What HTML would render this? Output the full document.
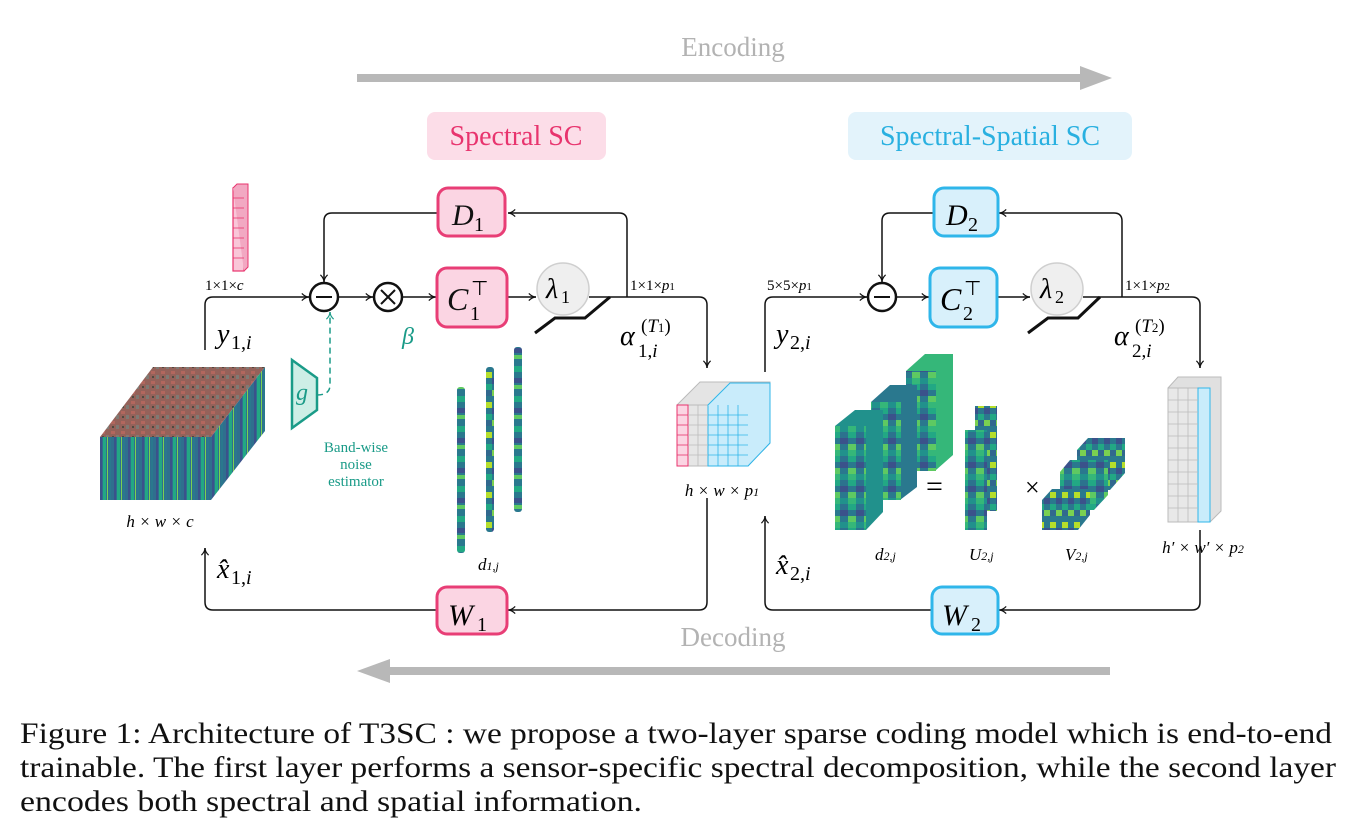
<!DOCTYPE html>
<html><head><meta charset="utf-8"><style>
html,body{margin:0;padding:0;background:#fff;}
svg{display:block;}
.m{font-family:"Liberation Serif",serif;font-style:italic;}
.r{font-family:"Liberation Serif",serif;}
</style></head><body>
<svg width="1358" height="826" viewBox="0 0 1358 826" xmlns="http://www.w3.org/2000/svg">
<defs>
<marker id="ah" viewBox="0 0 10 10" refX="9" refY="5" markerWidth="9" markerHeight="9" orient="auto" markerUnits="userSpaceOnUse">
<path d="M1,1 Q5,5 9,5 Q5,5 1,9" fill="none" stroke="#111" stroke-width="1.3"/></marker>
<marker id="aht" viewBox="0 0 10 10" refX="9" refY="5" markerWidth="9" markerHeight="9" orient="auto" markerUnits="userSpaceOnUse">
<path d="M1,1 Q5,5 9,5 Q5,5 1,9" fill="none" stroke="#1a9b88" stroke-width="1.3"/></marker>
<pattern id="vir" width="16" height="24" patternUnits="userSpaceOnUse">
<rect width="16" height="24" fill="#2a788e"/>
<rect x="0" y="0" width="8" height="6" fill="#22a884"/><rect x="8" y="6" width="8" height="6" fill="#3b528b"/>
<rect x="0" y="12" width="8" height="6" fill="#5ec962"/><rect x="8" y="18" width="8" height="6" fill="#21918c"/>
<rect x="8" y="0" width="8" height="6" fill="#2c728e"/><rect x="0" y="18" width="8" height="6" fill="#35b779"/>
</pattern>
<pattern id="vir2" width="12" height="30" patternUnits="userSpaceOnUse">
<rect width="12" height="30" fill="#2a788e"/>
<rect x="0" y="0" width="6" height="6" fill="#7ad151"/><rect x="6" y="12" width="6" height="6" fill="#b5de2b"/>
<rect x="0" y="18" width="6" height="6" fill="#3b528b"/><rect x="6" y="24" width="6" height="6" fill="#22a884"/>
<rect x="6" y="0" width="6" height="6" fill="#31688e"/>
</pattern>
<pattern id="stripe" width="14" height="10" patternUnits="userSpaceOnUse">
<rect width="14" height="10" fill="#2f6f8e"/>
<rect x="2" width="2" height="10" fill="#3b528b"/><rect x="5" width="3" height="10" fill="#22a884"/>
<rect x="9" width="1" height="10" fill="#7ad151"/><rect x="11" width="2" height="10" fill="#2a788e"/>
</pattern>
<pattern id="city" width="10" height="10" patternUnits="userSpaceOnUse">
<rect width="10" height="10" fill="#94625a"/><rect x="1" y="1" width="4" height="3" fill="#b2675e"/>
<rect x="6" y="5" width="3" height="4" fill="#7f7a74"/><rect x="2" y="6" width="2" height="2" fill="#4f4a40"/>
</pattern>
<pattern id="bar" width="8" height="30" patternUnits="userSpaceOnUse">
<rect width="8" height="30" fill="#2a788e"/><rect y="6" width="8" height="6" fill="#22a884"/>
<rect y="18" width="8" height="5" fill="#3b528b"/><rect y="25" width="8" height="4" fill="#5ec962"/>
</pattern>
</defs>

<text x="733" y="56" text-anchor="middle" class="r" font-size="27" fill="#b3b3b3">Encoding</text>
<line x1="357" y1="78" x2="1092" y2="78" stroke="#b8b8b8" stroke-width="8"/>
<path d="M1080,66 L1112,78 L1080,90 Z" fill="#b8b8b8"/>

<rect x="427" y="112" width="179" height="48" rx="8" fill="#fcdde8"/>
<text x="516" y="145" text-anchor="middle" class="r" font-size="28" fill="#e8346e">Spectral SC</text>
<rect x="848" y="112" width="284" height="48" rx="8" fill="#e3f3fb"/>
<text x="990" y="145" text-anchor="middle" class="r" font-size="28" fill="#29b0e0">Spectral-Spatial SC</text>

<g fill="none" stroke="#111" stroke-width="1.5">
<path d="M205,350 V305 Q205,297 213,297 H309" marker-end="url(#ah)"/>
<path d="M338,297 H373" marker-end="url(#ah)"/>
<path d="M402,297 H436" marker-end="url(#ah)"/>
<path d="M507,297 H536" marker-end="url(#ah)"/>
<path d="M589,297 H699 Q707,297 707,305 V368" marker-end="url(#ah)"/>
<path d="M627,297 V221 Q627,213 619,213 H508" marker-end="url(#ah)"/>
<path d="M438,213 H332 Q324,213 324,221 V282" marker-end="url(#ah)"/>
<path d="M707,498 V602 Q707,610 699,610 H508" marker-end="url(#ah)"/>
<path d="M437,610 H213 Q205,610 205,602 V548" marker-end="url(#ah)"/>
</g>
<g fill="none" stroke="#111" stroke-width="1.5">
<path d="M765,372 V305 Q765,297 773,297 H867" marker-end="url(#ah)"/>
<path d="M896,297 H929" marker-end="url(#ah)"/>
<path d="M997,297 H1030" marker-end="url(#ah)"/>
<path d="M1083,297 H1192 Q1200,297 1200,305 V368" marker-end="url(#ah)"/>
<path d="M1122,297 V221 Q1122,213 1114,213 H999" marker-end="url(#ah)"/>
<path d="M934,213 H890 Q882,213 882,221 V282" marker-end="url(#ah)"/>
<path d="M1200,530 V602 Q1200,610 1192,610 H999" marker-end="url(#ah)"/>
<path d="M932,610 H773 Q765,610 765,602 V516" marker-end="url(#ah)"/>
</g>

<g stroke="#e83e76" stroke-width="3" fill="#fbd5e3">
<rect x="438" y="188" width="67" height="48" rx="10"/>
<rect x="437" y="268" width="70" height="59" rx="10"/>
<rect x="437" y="587" width="70" height="47" rx="10"/>
</g>
<g stroke="#2fb6ea" stroke-width="3" fill="#d8f0fb">
<rect x="934" y="188" width="64" height="48" rx="10"/>
<rect x="930" y="268" width="67" height="59" rx="10"/>
<rect x="932" y="587" width="66" height="47" rx="10"/>
</g>
<text x="452" y="225" class="m" font-size="30" fill="#111">D</text><text x="474" y="231" class="r" font-size="20">1</text>
<text x="447" y="310" class="m" font-size="32" fill="#111">C</text><text x="471" y="295" class="r" font-size="20">⊤</text><text x="470" y="320" class="r" font-size="20">1</text>
<text x="448" y="625" class="m" font-size="30">W</text><text x="477" y="631" class="r" font-size="20">1</text>
<text x="946" y="225" class="m" font-size="30">D</text><text x="968" y="231" class="r" font-size="20">2</text>
<text x="940" y="310" class="m" font-size="32">C</text><text x="964" y="295" class="r" font-size="20">⊤</text><text x="963" y="320" class="r" font-size="20">2</text>
<text x="942" y="625" class="m" font-size="30">W</text><text x="971" y="631" class="r" font-size="20">2</text>

<g fill="#fff" stroke="#111" stroke-width="2.5">
<circle cx="324" cy="297" r="14"/><circle cx="388" cy="297" r="14"/><circle cx="882" cy="297" r="14"/>
</g>
<g stroke="#111" stroke-width="2"><line x1="316" y1="297" x2="332" y2="297"/><line x1="874" y1="297" x2="890" y2="297"/>
<line x1="381" y1="290" x2="395" y2="304"/><line x1="395" y1="290" x2="381" y2="304"/></g>
<circle cx="563" cy="289" r="26" fill="#efefef" stroke="#cfcfcf" stroke-width="1.5"/>
<circle cx="1057" cy="289" r="26" fill="#efefef" stroke="#cfcfcf" stroke-width="1.5"/>
<text x="546" y="298" class="m" font-size="28">λ</text><text x="561" y="303" class="r" font-size="18">1</text>
<text x="1040" y="298" class="m" font-size="28">λ</text><text x="1055" y="303" class="r" font-size="18">2</text>
<path d="M535,333 L555,318 H585 L610,297" fill="none" stroke="#111" stroke-width="3"/>
<path d="M1028,333 L1048,318 H1078 L1100,297" fill="none" stroke="#111" stroke-width="3"/>

<text x="205" y="290" class="r" font-size="15">1×1×<tspan class="m">c</tspan></text>
<text x="630" y="290" class="r" font-size="15">1×1×<tspan class="m">p</tspan><tspan font-size="11">1</tspan></text>
<text x="767" y="290" class="r" font-size="15">5×5×<tspan class="m">p</tspan><tspan font-size="11">1</tspan></text>
<text x="1125" y="290" class="r" font-size="15">1×1×<tspan class="m">p</tspan><tspan font-size="11">2</tspan></text>
<text x="217" y="343" class="m" font-size="28">y</text><text x="231" y="349" class="r" font-size="20">1,<tspan class="m">i</tspan></text>
<text x="776" y="343" class="m" font-size="28">y</text><text x="790" y="349" class="r" font-size="20">2,<tspan class="m">i</tspan></text>
<text x="620" y="345" class="m" font-size="28">α</text><text x="638" y="357" class="r" font-size="19">1,<tspan class="m">i</tspan></text>
<text x="641" y="332" class="r" font-size="19">(<tspan class="m">T</tspan><tspan font-size="13">1</tspan>)</text>
<text x="1114" y="345" class="m" font-size="28">α</text><text x="1132" y="357" class="r" font-size="19">2,<tspan class="m">i</tspan></text>
<text x="1135" y="332" class="r" font-size="19">(<tspan class="m">T</tspan><tspan font-size="13">2</tspan>)</text>
<text x="217" y="578" class="m" font-size="28">x̂</text><text x="231" y="584" class="r" font-size="20">1,<tspan class="m">i</tspan></text>
<text x="776" y="574" class="m" font-size="28">x̂</text><text x="790" y="580" class="r" font-size="20">2,<tspan class="m">i</tspan></text>

<rect x="233" y="188" width="11" height="83" fill="#f9c6d8" stroke="#e8346e" stroke-width="1.2"/>
<path d="M233,188 L237,184 H248 V267 L244,271" fill="#f2a8c2" stroke="#e8346e" stroke-width="1"/>
<g stroke="#e8346e" stroke-width="0.8"><line x1="233" y1="198" x2="244" y2="198"/><line x1="233" y1="208" x2="244" y2="208"/><line x1="233" y1="218" x2="244" y2="218"/><line x1="233" y1="228" x2="244" y2="228"/><line x1="233" y1="238" x2="244" y2="238"/><line x1="233" y1="248" x2="244" y2="248"/><line x1="233" y1="258" x2="244" y2="258"/></g>

<path d="M100,437 L153,367 H265 L211,437 Z" fill="url(#city)"/>
<rect x="100" y="437" width="111" height="63" fill="url(#stripe)"/>
<path d="M211,437 L265,367 V431 L211,500 Z" fill="url(#stripe)"/>
<text x="160" y="527" text-anchor="middle" class="m" font-size="17">h × w × c</text>

<path d="M292,360 L317,378 V410 L292,428 Z" fill="#cdeee6" stroke="#1a9b88" stroke-width="2.5"/>
<text x="296" y="400" class="m" font-size="24" fill="#1a9b88">g</text>
<path d="M317,395 Q330,395 330,385 V312" fill="none" stroke="#1a9b88" stroke-width="1.5" stroke-dasharray="6,4" marker-end="url(#aht)"/>
<text x="402" y="344" class="m" font-size="24" fill="#1a9b88">β</text>
<g class="r" font-size="15" fill="#1a9b88" text-anchor="middle"><text x="356" y="452">Band-wise</text><text x="356" y="469">noise</text><text x="356" y="486">estimator</text></g>

<rect x="457" y="387" width="8" height="166" rx="3" fill="url(#bar)"/>
<rect x="486" y="367" width="8" height="165" rx="3" fill="url(#vir2)"/>
<rect x="514" y="347" width="8" height="165" rx="3" fill="url(#bar)"/>
<text x="478" y="570" class="m" font-size="17">d<tspan class="r" font-size="12">1,</tspan><tspan font-size="12">j</tspan></text>

<path d="M677,405 L700,382 H770 V443 L748,466" fill="#e4e4e4" stroke="#bbb" stroke-width="1"/>
<rect x="677" y="405" width="71" height="61" fill="#e6e6e6" stroke="#bbb"/>
<rect x="708" y="405" width="40" height="61" fill="#c9ecfb" stroke="#2fb6ea"/>
<path d="M708,405 L730,383 H770 V443 L748,466" fill="#c9ecfb" stroke="#2fb6ea"/>
<rect x="677" y="405" width="11" height="61" fill="#fbd5e3" stroke="#e8346e"/>
<g stroke="#2fb6ea" stroke-width="0.8"><line x1="708" y1="415" x2="748" y2="415"/><line x1="708" y1="425" x2="748" y2="425"/><line x1="708" y1="435" x2="748" y2="435"/><line x1="708" y1="445" x2="748" y2="445"/><line x1="708" y1="455" x2="748" y2="455"/><line x1="718" y1="405" x2="718" y2="466"/><line x1="728" y1="405" x2="728" y2="466"/><line x1="738" y1="405" x2="738" y2="466"/></g>
<g stroke="#bbb" stroke-width="0.8"><line x1="688" y1="415" x2="708" y2="415"/><line x1="688" y1="425" x2="708" y2="425"/><line x1="688" y1="435" x2="708" y2="435"/><line x1="688" y1="445" x2="708" y2="445"/><line x1="688" y1="455" x2="708" y2="455"/><line x1="698" y1="405" x2="698" y2="466"/></g>
<g stroke="#e8346e" stroke-width="0.8"><line x1="677" y1="415" x2="688" y2="415"/><line x1="677" y1="425" x2="688" y2="425"/><line x1="677" y1="435" x2="688" y2="435"/><line x1="677" y1="445" x2="688" y2="445"/><line x1="677" y1="455" x2="688" y2="455"/></g>
<text x="722" y="496" text-anchor="middle" class="m" font-size="17">h × w × p<tspan class="r" font-size="12">1</tspan></text>

<path d="M906,371 L925,354 H953 V455 L936,470 Z" fill="#35b779"/><rect x="906" y="371" width="30" height="100" fill="url(#vir)"/>
<path d="M871,402 L890,385 H917 V487 L900,500 Z" fill="#2a788e"/><rect x="871" y="402" width="30" height="98" fill="url(#vir)"/>
<path d="M835,426 L855,410 H883 V512 L866,530 Z" fill="#21918c"/><rect x="835" y="426" width="31" height="104" fill="url(#vir)"/>
<text x="926" y="496" class="r" font-size="30">=</text>
<rect x="975" y="406" width="22" height="105" fill="url(#vir2)"/>
<rect x="965" y="430" width="22" height="100" fill="url(#vir)"/>
<text x="1025" y="496" class="r" font-size="26">×</text>
<path d="M1077,450 L1088,438 H1125 V473 L1110,490 H1077 Z" fill="url(#vir2)"/>
<path d="M1060,472 L1070,460 H1108 V495 L1094,510 H1060 Z" fill="url(#vir)"/>
<path d="M1042,500 L1052,489 H1090 V515 L1078,530 H1042 Z" fill="url(#vir2)"/>
<text x="875" y="560" class="m" font-size="17">d<tspan class="r" font-size="12">2,</tspan><tspan font-size="12">j</tspan></text>
<text x="969" y="560" class="m" font-size="17">U<tspan class="r" font-size="12">2,</tspan><tspan font-size="12">j</tspan></text>
<text x="1065" y="560" class="m" font-size="17">V<tspan class="r" font-size="12">2,</tspan><tspan font-size="12">j</tspan></text>

<path d="M1168,388 L1178,377 H1221 V511 L1210,522" fill="#e0e0e0" stroke="#bbb"/>
<rect x="1168" y="388" width="42" height="134" fill="#e8e8e8" stroke="#bbb"/>
<rect x="1198" y="388" width="12" height="134" fill="#c9ecfb" stroke="#2fb6ea"/>
<g stroke="#bbb" stroke-width="0.8"><line x1="1178" y1="388" x2="1178" y2="522"/><line x1="1188" y1="388" x2="1188" y2="522"/>
<line x1="1168" y1="400" x2="1198" y2="400"/><line x1="1168" y1="412" x2="1198" y2="412"/><line x1="1168" y1="424" x2="1198" y2="424"/><line x1="1168" y1="436" x2="1198" y2="436"/><line x1="1168" y1="448" x2="1198" y2="448"/><line x1="1168" y1="460" x2="1198" y2="460"/><line x1="1168" y1="472" x2="1198" y2="472"/><line x1="1168" y1="484" x2="1198" y2="484"/><line x1="1168" y1="496" x2="1198" y2="496"/><line x1="1168" y1="508" x2="1198" y2="508"/></g>
<text x="1203" y="553" text-anchor="middle" class="m" font-size="17">h′ × w′ × p<tspan class="r" font-size="12">2</tspan></text>

<text x="733" y="646" text-anchor="middle" class="r" font-size="27" fill="#b3b3b3">Decoding</text>
<line x1="1110" y1="671" x2="378" y2="671" stroke="#b8b8b8" stroke-width="8"/>
<path d="M390,659 L357,671 L390,683 Z" fill="#b8b8b8"/>

<g class="r" font-size="30" fill="#111">
<text x="20" y="743" textLength="1312" lengthAdjust="spacingAndGlyphs">Figure 1: Architecture of T3SC : we propose a two-layer sparse coding model which is end-to-end</text>
<text x="20" y="777" textLength="1316" lengthAdjust="spacingAndGlyphs">trainable. The first layer performs a sensor-specific spectral decomposition, while the second layer</text>
<text x="20" y="811" textLength="622" lengthAdjust="spacingAndGlyphs">encodes both spectral and spatial information.</text>
</g>
</svg>
</body></html>
